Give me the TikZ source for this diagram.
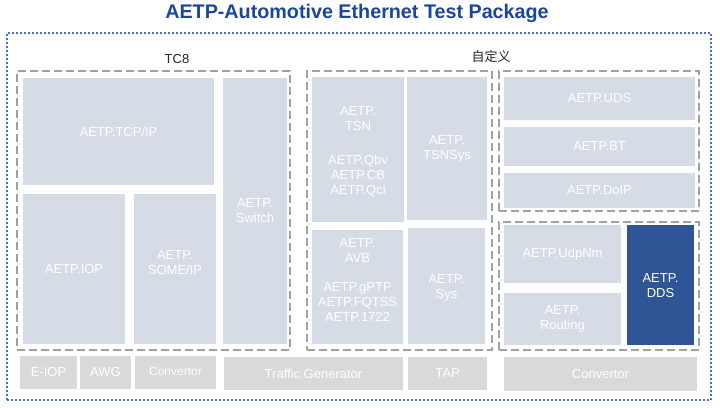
\documentclass[tikz,border=0pt]{standalone}
\usepackage{fontspec}
\setmainfont{Liberation Sans}
\newfontfamily\cjk{Noto Sans CJK SC}
\usetikzlibrary{fit}
\definecolor{boxfill}{HTML}{D6DCE5}
\definecolor{greyfill}{HTML}{D9D9D9}
\definecolor{dashgrey}{HTML}{A0A0A0}
\definecolor{ddsblue}{HTML}{2F5597}
\definecolor{titleblue}{HTML}{1A479C}
\definecolor{dotblue}{HTML}{4472C4}
\begin{document}
\begin{tikzpicture}[x=0.75pt,y=-0.75pt,
  lbox/.style={fill=boxfill, draw=none, inner sep=0pt},
  gbox/.style={fill=greyfill, draw=none, inner sep=0pt},
  dbox/.style={fill=ddsblue, draw=none, inner sep=0pt},
  txt/.style={text=white, font=\fontsize{9.75}{11.25}\selectfont, align=center, inner sep=0pt},
  stxt/.style={text=white, font=\fontsize{9}{11}\selectfont, align=center, inner sep=0pt},
  grp/.style={draw=dashgrey, line width=1.1pt, dash pattern=on 6pt off 3pt, inner sep=0pt},
  outerbox/.style={draw=dotblue, line width=1.1pt, dash pattern=on 1.5pt off 1.5pt, inner sep=0pt},
  lbl/.style={font=\fontsize{9.75}{11.25}\selectfont, text=black!85, inner sep=0pt}
]
\useasboundingbox (0,0) rectangle (720,407);

\node[font=\fontsize{14.8}{16}\selectfont\bfseries, text=titleblue] (title) at (357,13) {AETP-Automotive Ethernet Test Package};

\node[outerbox, fit={(7,33)(711,400)}] (outer) {};

\node[grp, fit={(17,71)(290,350)}] (tc8) {};
\node[grp, fit={(307,71)(492,350)}] (mid) {};
\node[grp, fit={(499,71)(699,211)}] (rtop) {};
\node[grp, fit={(499,222)(699,350)}] (rbot) {};

\node[lbl] (tc8lbl) at (177,59) {TC8};
\node[lbl] (zdylbl) at (491,57) {\cjk 自定义};

% TC8 boxes
\node[lbox, fit={(23,78)(214,185)}] (tcp) {};
\node[txt] (tcpT) at (tcp.center) {AETP.TCP/IP};
\node[lbox, fit={(223,78)(287,344)}] (sw) {};
\node[txt] (swT) at (sw.center) {AETP.\\Switch};
\node[lbox, fit={(23,194)(125,344)}] (iop) {};
\node[txt] (iopT) at (iop.center) {AETP.IOP};
\node[lbox, fit={(134,194)(216,344)}] (some) {};
\node[txt] (someT) at (175,263) {AETP.\\SOME/IP};

% middle boxes
\node[lbox, fit={(312,77)(404,222)}] (tsn) {};
\node[txt] (tsnA) at (358,119) {AETP.\\TSN};
\node[txt] (tsnB) at (358,176.5) {AETP.Qbv\\AETP.CB\\AETP.Qci};
\node[lbox, fit={(407,77)(487,220)}] (tsnsys) {};
\node[txt] (tsnsysT) at (447,149) {AETP.\\TSNSys};
\node[lbox, fit={(312,230)(403,344)}] (avb) {};
\node[txt] (avbA) at (357.5,250.5) {AETP.\\AVB};
\node[txt] (avbB) at (357.5,302) {AETP.gPTP\\AETP.FQTSS\\AETP.1722};
\node[lbox, fit={(408,228)(485,344)}] (sys) {};
\node[txt] (sysT) at (446.5,287.5) {AETP.\\Sys};

% right top
\node[lbox, fit={(504,77)(695,120)}] (uds) {};
\node[txt] (udsT) at (uds.center) {AETP.UDS};
\node[lbox, fit={(504,127)(695,166)}] (bt) {};
\node[txt] (btT) at (bt.center) {AETP.BT};
\node[lbox, fit={(504,173)(695,208)}] (doip) {};
\node[txt] (doipT) at (doip.center) {AETP.DoIP};

% right bottom
\node[lbox, fit={(504,225)(621,283)}] (udp) {};
\node[txt] (udpT) at (udp.center) {AETP.UdpNm};
\node[lbox, fit={(504,293)(621,345)}] (rout) {};
\node[txt] (routT) at (rout.center) {AETP.\\Routing};
\node[dbox, fit={(627,225)(694,345)}] (dds) {};
\node[txt] (ddsT) at (660.5,286) {AETP.\\DDS};

% bottom row
\node[gbox, fit={(20,356)(77,389)}] (eiop) {};
\node[txt] (eiopT) at (eiop.center) {E-IOP};
\node[gbox, fit={(80,356)(131,389)}] (awg) {};
\node[txt] (awgT) at (awg.center) {AWG};
\node[gbox, fit={(135,356)(216,389)}] (conv1) {};
\node[stxt] (conv1T) at (175.5,371.5) {Convertor};
\node[gbox, fit={(224,357)(403,390)}] (traffic) {};
\node[txt] (trafficT) at (traffic.center) {Traffic Generator};
\node[gbox, fit={(408,357)(487,390)}] (tap) {};
\node[txt] (tapT) at (tap.center) {TAP};
\node[gbox, fit={(504,357)(697,391)}] (conv2) {};
\node[txt] (conv2T) at (conv2.center) {Convertor};
\end{tikzpicture}
\end{document}
